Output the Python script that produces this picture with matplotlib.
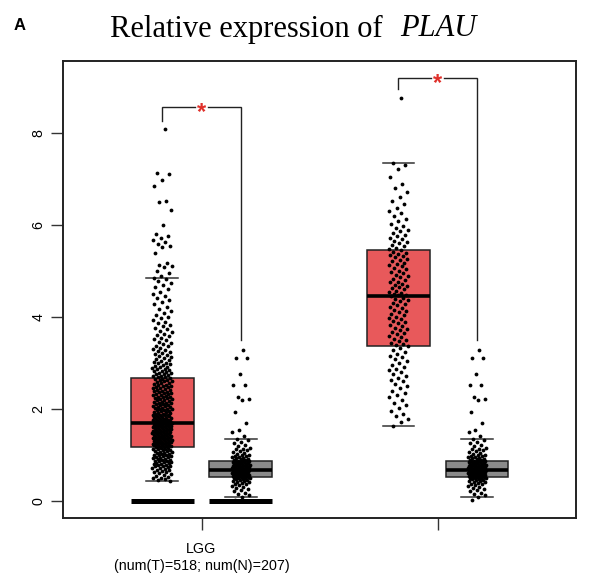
import matplotlib
matplotlib.use('Agg')
import matplotlib.pyplot as plt

# ---------------- data ----------------
positions = [1, 2, 4, 5]
group_ticks = [1.5, 4.5]
group_labels = ['LGG\n(num(T)=518; num(N)=207)', '']
box_kind = ['T', 'N', 'T', 'N']
box_q1 = [1.18, 0.515, 3.38, 0.515]
box_med = [1.69, 0.67, 4.46, 0.67]
box_q3 = [2.67, 0.87, 5.46, 0.87]
whisk_lo = [0.43, 0.09, 1.64, 0.09]
whisk_hi = [4.85, 1.35, 7.35, 1.35]

lgg_tumor = [
    8.09, 7.14, 7.10, 6.98, 6.84, 6.53, 6.49, 6.33, 6.00, 5.80, 5.76, 5.72, 5.68,
    5.62, 5.58, 5.55, 5.52, 5.39, 5.17, 5.12, 5.10, 5.08, 5.00, 4.95, 4.90,
    4.85, 4.82, 4.78, 4.74, 4.70, 4.66, 4.61, 4.55, 4.50, 4.46, 4.41, 4.37, 4.32,
    4.28, 4.22, 4.18, 4.13, 4.09, 4.05, 4.01, 3.97, 3.93, 3.90, 3.86, 3.83, 3.80,
    3.76, 3.73, 3.70, 3.67, 3.64, 3.61, 3.58, 3.55, 3.52, 3.49, 3.46, 3.44, 3.41,
    3.38, 3.36, 3.33, 3.31, 3.28, 3.26, 3.24, 3.21, 3.19, 3.17, 3.15, 3.13, 3.11,
    3.09, 3.07, 3.05, 3.03, 3.01, 2.99, 2.97, 2.96, 2.94, 2.92, 2.91, 2.89, 2.88,
    2.86, 2.85, 2.83, 2.82, 2.80, 2.79, 2.78, 2.76, 2.75, 2.74, 2.72, 2.71, 2.70,
    2.69, 2.68,
    2.66, 2.65, 2.63, 2.62, 2.61, 2.60, 2.58, 2.57, 2.56, 2.55, 2.53, 2.52, 2.51,
    2.50, 2.48, 2.47, 2.46, 2.45, 2.44, 2.42, 2.41, 2.40, 2.39, 2.38, 2.36, 2.35,
    2.34, 2.33, 2.32, 2.31, 2.30, 2.28, 2.27, 2.26, 2.25, 2.24, 2.23, 2.22, 2.21,
    2.20, 2.19, 2.18, 2.16, 2.15, 2.14, 2.13, 2.12, 2.11, 2.10, 2.09, 2.08, 2.07,
    2.06, 2.05, 2.04, 2.03, 2.02, 2.01, 2.00, 1.99, 1.98, 1.97, 1.96, 1.95, 1.94,
    1.93, 1.92, 1.91, 1.90, 1.89, 1.88, 1.87, 1.86, 1.86, 1.85, 1.84, 1.83, 1.82,
    1.81, 1.80, 1.80, 1.79, 1.78, 1.77, 1.76, 1.76, 1.75, 1.74, 1.73, 1.73, 1.72,
    1.71, 1.71, 1.70, 1.69,
    1.68, 1.68, 1.67, 1.66, 1.66, 1.65, 1.64, 1.64, 1.63, 1.62, 1.62, 1.61, 1.60,
    1.60, 1.59, 1.58, 1.58, 1.57, 1.56, 1.56, 1.55, 1.54, 1.54, 1.53, 1.52, 1.52,
    1.51, 1.50, 1.50, 1.49, 1.48, 1.48, 1.47, 1.46, 1.46, 1.45, 1.44, 1.44, 1.43,
    1.42, 1.42, 1.41, 1.40, 1.40, 1.39, 1.38, 1.38, 1.37, 1.36, 1.36, 1.35, 1.34,
    1.34, 1.33, 1.32, 1.32, 1.31, 1.30, 1.30, 1.29, 1.28, 1.28, 1.27, 1.26, 1.26,
    1.25, 1.24, 1.24, 1.23, 1.22, 1.22, 1.21, 1.20, 1.20, 1.19, 1.18,
    1.17, 1.16, 1.15, 1.14, 1.13, 1.12, 1.11, 1.10, 1.09, 1.08, 1.07, 1.06, 1.05,
    1.04, 1.03, 1.02, 1.01, 1.00, 0.99, 0.98, 0.97, 0.96, 0.95, 0.94, 0.93, 0.92,
    0.91, 0.90, 0.89, 0.88, 0.87, 0.86, 0.85, 0.84, 0.83, 0.82, 0.81, 0.80, 0.79,
    0.78, 0.77, 0.76, 0.75, 0.74, 0.72, 0.71, 0.70, 0.68, 0.67, 0.65, 0.64, 0.62,
    0.61, 0.59, 0.57, 0.55, 0.53, 0.51, 0.49, 0.47, 0.45, 0.43,
]

normal_tissue = [
    3.28, 3.10, 3.10, 2.75, 2.53, 2.52, 2.27, 2.21, 2.20, 1.94, 1.69, 1.54, 1.49, 1.42,
    1.35, 1.32, 1.28, 1.25, 1.22, 1.19, 1.16, 1.14, 1.12, 1.10, 1.08, 1.06, 1.04,
    1.02, 1.01, 0.99, 0.98, 0.97, 0.96, 0.95, 0.94, 0.93, 0.92, 0.91, 0.90, 0.89,
    0.88, 0.88, 0.87, 0.86, 0.86, 0.85, 0.84, 0.84, 0.83, 0.82, 0.82, 0.81, 0.80,
    0.80, 0.79, 0.78, 0.78, 0.77, 0.76, 0.76, 0.75, 0.75, 0.74, 0.73, 0.73, 0.72,
    0.72, 0.71, 0.70, 0.70, 0.69, 0.69, 0.68, 0.68, 0.67, 0.67, 0.66, 0.66, 0.65,
    0.65, 0.64, 0.64, 0.63, 0.63, 0.62, 0.62, 0.61, 0.61, 0.60, 0.60, 0.59, 0.59,
    0.58, 0.58, 0.57, 0.57, 0.56, 0.56, 0.55, 0.55, 0.54, 0.54, 0.53, 0.53, 0.52,
    0.52, 0.51, 0.50, 0.50, 0.49, 0.48, 0.47, 0.46, 0.45, 0.44, 0.43, 0.42, 0.41,
    0.40, 0.38, 0.37, 0.35, 0.33, 0.31, 0.29, 0.27, 0.24, 0.21, 0.18, 0.15, 0.12,
    0.09, 0.02,
]

gbm_tumor = [
    8.75,
    7.35, 7.30, 7.22, 7.05, 6.90, 6.80, 6.72, 6.60, 6.52, 6.45, 6.38, 6.30, 6.25,
    6.20, 6.14, 6.08, 6.02, 5.98, 5.94, 5.90, 5.86, 5.82, 5.78, 5.75, 5.72, 5.69,
    5.66, 5.63, 5.60, 5.57, 5.54, 5.51, 5.48,
    5.45, 5.42, 5.40, 5.37, 5.35, 5.32, 5.30, 5.27, 5.24, 5.21, 5.18, 5.15, 5.12,
    5.10, 5.07, 5.04, 5.01, 4.98, 4.95, 4.92, 4.89, 4.86, 4.83, 4.80, 4.77, 4.75,
    4.72, 4.70, 4.67, 4.65, 4.62, 4.60, 4.57, 4.55, 4.53, 4.50, 4.48, 4.47,
    4.45, 4.42, 4.40, 4.37, 4.34, 4.31, 4.28, 4.25, 4.22, 4.19, 4.16, 4.13, 4.10,
    4.07, 4.04, 4.01, 3.98, 3.95, 3.92, 3.89, 3.86, 3.83, 3.80, 3.77, 3.74, 3.71,
    3.68, 3.65, 3.62, 3.59, 3.56, 3.53, 3.50, 3.47, 3.44, 3.41, 3.39,
    3.36, 3.32, 3.28, 3.24, 3.20, 3.16, 3.12, 3.08, 3.04, 3.00, 2.96, 2.92, 2.88,
    2.84, 2.80, 2.76, 2.72, 2.68, 2.64, 2.60, 2.55, 2.50, 2.45, 2.40, 2.35, 2.30,
    2.25, 2.20, 2.14, 2.08, 2.02, 1.96, 1.90, 1.84, 1.78, 1.72, 1.64,
]

point_sets = [lgg_tumor, normal_tissue, gbm_tumor, normal_tissue]
zero_bar_positions = [1, 2]
sig_pairs = [(1, 2), (4, 5)]
sig_heights = [8.565, 9.19]
sig_left_drop = [8.25, 8.96]
sig_right_drop = [3.50, 3.50]
y_ticks = [0, 2, 4, 6, 8]

# ---------------- styles ----------------
TUMOR_COLOR = '#E8595B'
NORMAL_COLOR = '#8A8A8A'
STAR_COLOR = '#E0302A'
SANS = ['Liberation Sans', 'DejaVu Sans']
SERIF = ['Liberation Serif', 'DejaVu Serif']

plt.rcParams['font.family'] = SANS

fig = plt.figure(figsize=(5.92, 5.81), dpi=100)
ax = fig.add_axes([62.7 / 592, 63 / 581, (576 - 62.7) / 592, (518 - 61) / 581])

stats = []
for i in range(len(positions)):
    stats.append(dict(med=box_med[i], q1=box_q1[i], q3=box_q3[i],
                      whislo=whisk_lo[i], whishi=whisk_hi[i], fliers=[]))

bp = ax.bxp(stats, positions=positions, widths=0.8, patch_artist=True,
            showfliers=False, capwidths=0.4,
            boxprops=dict(linewidth=1.1, edgecolor='#222222'),
            whiskerprops=dict(linewidth=0),
            capprops=dict(linewidth=1.1, color='#333333'),
            medianprops=dict(linewidth=2.6, color='black', solid_capstyle='butt'))
for patch, kind in zip(bp['boxes'], box_kind):
    patch.set_facecolor(TUMOR_COLOR if kind == 'T' else NORMAL_COLOR)
    patch.set_zorder(1)

# jittered points
half_widths = {'T': 0.125, 'N': 0.115}
for pos, kind, vals in zip(positions, box_kind, point_sets):
    hw = half_widths[kind]
    xs = [pos + (((k + 1) * 0.6180339887) % 1.0 - 0.5) * 2 * hw for k in range(len(vals))]
    ax.scatter(xs, vals, s=7.5, color='black', linewidths=0, zorder=4)

# thick zero bars
for p in zero_bar_positions:
    ax.hlines(0, p - 0.4, p + 0.4, colors='black', linewidth=3.6, zorder=3)

# significance brackets
gap = 0.08
for (a, b), h, ld, rd in zip(sig_pairs, sig_heights, sig_left_drop, sig_right_drop):
    mid = (a + b) / 2
    ax.plot([a, a, mid - gap], [ld, h, h], color='#222222', lw=1.0, zorder=5,
            solid_joinstyle='miter')
    ax.plot([mid + gap, b, b], [h, h, rd], color='#222222', lw=1.0, zorder=5,
            solid_joinstyle='miter')
    ax.text(mid, h - 0.12, '*', color=STAR_COLOR, fontsize=17, ha='center',
            va='center', fontfamily=SANS, fontweight='bold', zorder=6)

ax.set_xlim(-0.264, 6.258)
ax.set_ylim(-0.37, 9.565)
ax.set_yticks(y_ticks)
ax.set_yticklabels([str(t) for t in y_ticks], rotation=90, va='center', fontsize=10.3)
ax.set_xticks(group_ticks)
ax.set_xticklabels(group_labels, fontsize=10.3, linespacing=1.25)
ax.tick_params(axis='both', length=8.5, width=1.0, color='#333333')
ax.tick_params(axis='y', pad=4)
ax.tick_params(axis='x', pad=9)
for sp in ax.spines.values():
    sp.set_linewidth(1.4)
    sp.set_color('#222222')

# title and panel label
fig.text(390 / 592, 1 - 29 / 581, 'Relative expression of ', ha='right', va='center',
         fontsize=22, fontfamily=SERIF)
fig.text(400 / 592, 1 - 29 / 581, 'PLAU', ha='left', va='center',
         fontsize=22, fontfamily=SERIF, fontstyle='italic')
fig.text(14 / 592, 1 - 25 / 581, 'A', ha='left', va='center', fontsize=12,
         fontweight='bold', fontfamily=SANS)

fig.savefig('out.png', dpi=100)
